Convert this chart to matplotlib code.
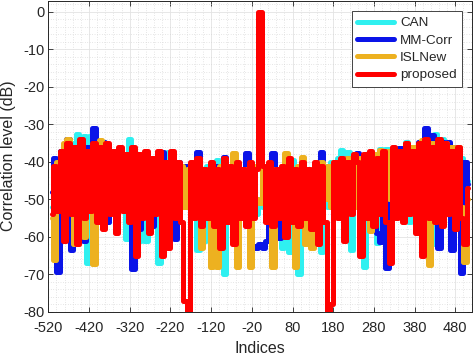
import numpy as np
import matplotlib
matplotlib.use("Agg")
import matplotlib.pyplot as plt
from matplotlib.ticker import MultipleLocator

plt.rcParams['font.family'] = ['Liberation Sans', 'DejaVu Sans']
plt.rcParams['axes.unicode_minus'] = False

# correlation lag indices (sampled every 8 lags)
idx = np.arange(-512, 513, 8)

can = [-52, -42, -50, -37, -49, -36, -53, -35, -32.5, -48, -33, -67, -33, -50, -37, -52,
       -36, -56, -38, -51, -37, -49, -38, -60.5, -34, -59, -39, -61, -40, -61, -39, -50,
       -40, -67, -41, -51, -37.5, -52, -40, -49, -41, -52, -42, -48, -41, -63.5, -42, -61,
       -41, -50, -42, -39.5, -52, -70, -42, -51, -43, -50, -42, -53, -42, -50, -41.5, -54,
       -50,
       -52, -42, -50, -41.5, -53, -42, -63, -41, -64, -39.5, -52, -70, -41, -51, -42, -42,
       -61.5, -42, -64, -41, -52, -40, -50, -39, -36.8, -50, -37.5, -63.5, -40, -52, -39, -68,
       -40, -53, -39, -61.7, -36.5, -50, -36.5, -52, -36.5, -50, -38, -49, -34.6, -56, -36, -50,
       -36, -52, -35, -50, -62, -32.5, -49, -34, -51, -36, -50, -37, -52, -39, -50, -45]

mm_corr = [-48, -39, -69.5, -37, -50, -34, -63.5, -36, -51, -35, -61, -36, -50, -31, -49, -36,
           -34.6, -56, -38, -50, -37, -52, -38, -50, -39, -68.5, -38, -58, -39, -51, -40, -57,
           -40, -50, -37.3, -52, -40, -50, -60.5, -40, -50, -41, -52, -42, -49, -37.3, -51, -42,
           -50, -42, -52, -41, -61, -38.8, -50, -42, -52, -62.3, -42, -50, -37.7, -52, -62.5, -63,
           -62,
           -63, -61, -42, -37.7, -52, -60.3, -42, -50, -41, -52, -42, -50, -41, -53, -42, -50,
           -41, -52, -37.3, -50, -42, -51, -41, -50, -40, -52, -39, -50, -40, -37.7, -52, -39,
           -50, -38, -52, -59, -61.5, -38, -68.4, -37, -52, -38, -36.4, -50, -37, -52, -36, -56.3,
           -34.6, -50, -31, -52, -32.8, -51, -63, -34.6, -50, -34.6, -63.5, -36, -52, -69.7, -40, -46]

isl_new = [-55, -66.3, -40, -50, -35, -34, -50, -62, -62, -36, -60, -37, -51, -67.2, -37, -34.2,
           -55, -38, -51, -37, -50, -39, -52, -38, -50, -39, -53, -40, -51, -39, -50, -40,
           -52, -41, -50, -57.4, -41, -51, -42, -50, -41, -52, -42, -50, -41, -51, -63, -42,
           -50, -68, -42, -68, -41, -51, -42, -50, -37.7, -68, -42, -52, -42, -68, -41, -50,
           -51,
           -42, -50, -41, -68, -42, -51, -41, -37.7, -50, -42, -68, -41, -38.6, -62, -42, -63,
           -41, -52, -40, -50, -41, -52, -40, -50, -40, -55, -39, -51, -40, -52, -39, -50,
           -38, -58.5, -38, -50, -36.8, -52, -37, -50, -38, -51, -37, -50, -35, -52, -36, -50,
           -55, -34.2, -52, -67.5, -35, -50, -36, -52, -35, -50, -36, -51, -36, -52, -66.6, -50]

proposed = [-54, -41, -53, -37, -61, -35, -54, -36, -62, -34, -55, -37, -53, -35, -56, -36,
            -58, -35, -54, -37, -59, -36, -53, -38, -56, -36, -65, -38, -55, -37, -59, -39,
            -54, -37, -65, -40, -63, -37, -55, -40, -56, -77, -80, -40, -55, -39, -57, -42,
            -55, -40, -57, -42, -63, -39, -56, -41, -62, -40, -55, -42, -57, -40, -55, -42,
            0,
            -41, -56, -40, -57, -42, -55, -41, -60, -39, -56, -42, -57, -40, -55, -42, -58,
            -40, -62, -41, -56, -80, -78, -40, -55, -39, -61, -40, -54, -38, -40, -65, -38,
            -55, -37, -57, -39, -54, -37, -56, -67, -36, -55, -37, -56, -35, -54, -37, -59,
            -35, -65, -34, -55, -36, -56, -34, -57, -35, -54, -37, -58, -36, -55, -62, -47]

names = ['CAN', 'MM-Corr', 'ISLNew', 'proposed']
colors = ['#2ff0f0', '#0a14e8', '#EDB120', '#ff0000']

fig = plt.figure(figsize=(4.74, 3.58), dpi=100)
ax = fig.add_axes([0.102, 0.129, 0.893, 0.8695])

for y, name, c in zip([can, mm_corr, isl_new, proposed], names, colors):
    ax.plot(idx, y, color=c, lw=3.6, label=name, drawstyle='steps-mid',
            solid_capstyle='round', solid_joinstyle='round')

ax.set_xlim(-520, 520)
ax.set_ylim(-80, 3)
ax.set_xticks(np.arange(-520, 481, 100))
ax.set_yticks(np.arange(-80, 1, 10))
ax.xaxis.set_minor_locator(MultipleLocator(20))
ax.yaxis.set_minor_locator(MultipleLocator(2))

ax.set_axisbelow(True)
ax.grid(which='major', color='#e3e3e3', lw=0.6, ls='-')
ax.grid(which='minor', color='#cfcfcf', lw=0.5, ls=(0, (1, 2.5)))

ax.tick_params(which='major', direction='in', top=True, right=True, length=3.5,
               width=0.6, color='#262626', labelsize=10.5, labelcolor='#262626')
ax.tick_params(axis='x', which='major', pad=6.5)
ax.tick_params(axis='y', which='major', pad=3)
ax.tick_params(which='minor', length=0)
for s in ax.spines.values():
    s.set_color('#262626')
    s.set_linewidth(0.7)

ax.set_xlabel('Indices', fontsize=11.5, color='#262626')
ax.set_ylabel('Correlation level (dB)', fontsize=11.5, color='#262626')
ax.xaxis.set_label_coords(0.5, -0.094)
ax.yaxis.set_label_coords(-0.077, 0.5)

leg = ax.legend(loc='upper right', bbox_to_anchor=(0.977, 0.965), fontsize=9.7,
                handlelength=2.7, handletextpad=0.45, labelspacing=0.37,
                borderpad=0.4, borderaxespad=0, fancybox=False, framealpha=1)
leg.get_frame().set_edgecolor('#262626')
leg.get_frame().set_linewidth(0.6)
for t in leg.get_texts():
    t.set_color('#262626')

plt.savefig('out.png', dpi=100)
